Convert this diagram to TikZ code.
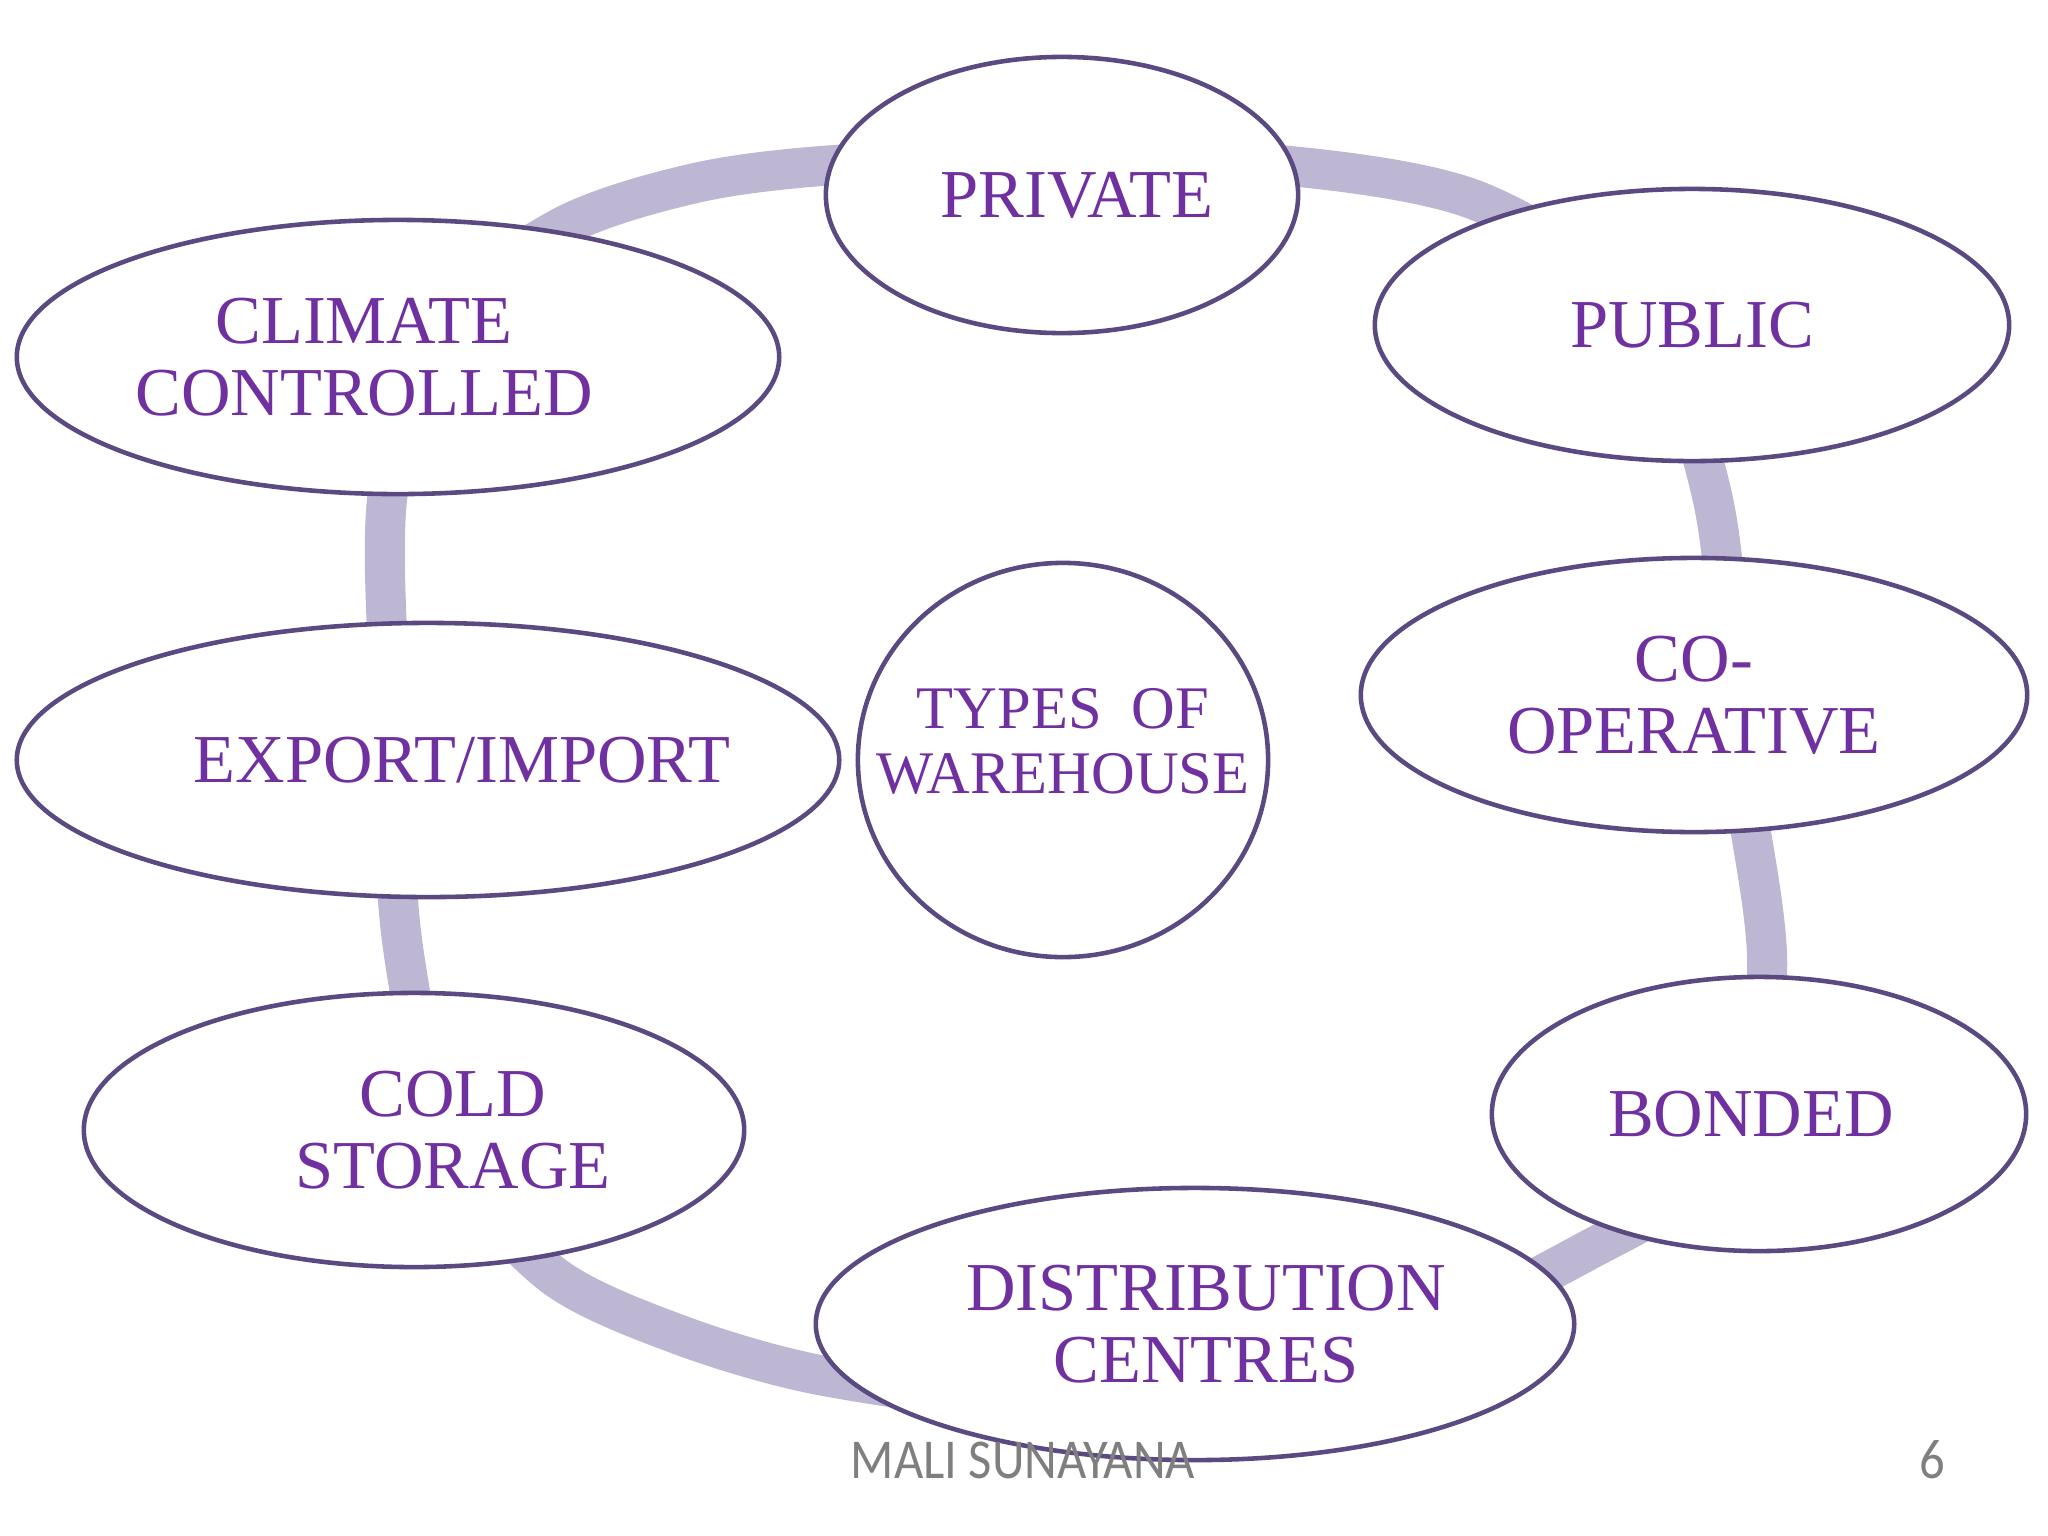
\documentclass[tikz,border=0pt]{standalone}
\usepackage{fontspec}
\setmainfont{Liberation Serif}
\newfontfamily\footfont[FakeStretch=0.9]{Carlito}
\usetikzlibrary{shapes.geometric}
\definecolor{WhPurple}{HTML}{7030A0}
\definecolor{WhEdge}{HTML}{5B4A82}
\definecolor{WhBand}{HTML}{BDB7D3}
\definecolor{WhGrey}{HTML}{7F7F7F}

\begin{document}
\begin{tikzpicture}[x=0.01cm,y=-0.01cm,
    typebox/.style={ellipse,draw=WhEdge,line width=1.3pt,fill=white,inner ysep=0pt,inner xsep=-1cm,
      text=WhPurple,align=center,font=\fontsize{19.5}{20.5}\selectfont},
    footer/.style={text=WhGrey,font=\footfont\fontsize{16}{18}\selectfont}]
  \fill[white] (0,0) rectangle (2048,1536);
  \useasboundingbox (0,0) rectangle (2048,1536);
  % ring behind the ellipses
  \draw[WhBand,line width=0.4cm] plot[smooth cycle] coordinates {
    (1062,160) (1290,166) (1480,202) (1640,310) (1713,500) (1740,760)
    (1767,975) (1720,1160) (1583,1253) (1350,1360) (1050,1400) (830,1377)
    (680,1335) (550,1273) (450,1150) (402,940) (390,700) (387,500)
    (430,330) (560,228) (700,182) (850,164)};
  % outer ring of types
  \node[typebox,minimum width=4.72cm,minimum height=2.76cm] (private) at (1062,195) {\hspace*{0.3cm}PRIVATE};
  \node[typebox,minimum width=6.34cm,minimum height=2.72cm] (public) at (1692,325) {PUBLIC};
  \node[typebox,minimum width=6.66cm,minimum height=2.74cm] (coop) at (1694,695) {CO-\\OPERATIVE};
  \node[typebox,minimum width=5.34cm,minimum height=2.74cm] (bonded) at (1759,1114) {\hspace*{-0.16cm}BONDED};
  \node[typebox,minimum width=7.58cm,minimum height=2.72cm] (distrib) at (1195,1324) {\hspace*{0.22cm}DISTRIBUTION\\\hspace*{0.22cm}CENTRES};
  \node[typebox,minimum width=6.60cm,minimum height=2.74cm] (cold) at (414,1130) {\hspace*{0.78cm}COLD\\\hspace*{0.78cm}STORAGE};
  \node[typebox,minimum width=8.22cm,minimum height=2.74cm] (export) at (428,760) {\hspace*{0.68cm}EXPORT/IMPORT};
  \node[typebox,minimum width=7.62cm,minimum height=2.74cm] (climate) at (398,357) {\hspace*{-0.68cm}CLIMATE\\\hspace*{-0.68cm}CONTROLLED};
  % centre
  \node[typebox,minimum width=4.10cm,minimum height=3.94cm,text depth=0.38cm,
    font=\fontsize{17.2}{18.5}\selectfont] (types) at (1063,760) {TYPES\ \ OF\\WAREHOUSE};
  % footer
  \node[footer] (author) at (1023,1460) {MALI SUNAYANA};
  \node[footer] (pageno) at (1932,1460) {6};
\end{tikzpicture}
\end{document}
